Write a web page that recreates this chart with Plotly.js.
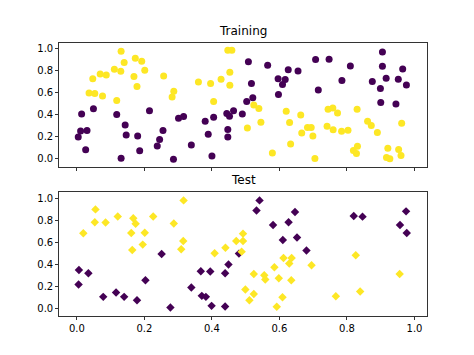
<!DOCTYPE html>
<html>
<head>
<meta charset="utf-8">
<script src="https://cdn.plot.ly/plotly-3.0.1.min.js"></script>
<style>html,body{margin:0;padding:0;background:#fff;}#chart{width:474px;height:355px;}</style>
</head>
<body>
<div id="chart"></div>
<script>
// Training set, class 1 (yellow)
var trainYellowX = [0.131,0.047,0.069,0.087,0.036,0.053,0.076,0.111,0.130,0.140,0.173,0.192,0.201,0.169,0.178,0.118,0.257,0.287,0.282,0.360,0.396,0.427,0.453,0.453,0.447,0.459,0.405,0.524,0.539,0.545,0.505,0.579,0.620,0.630,0.663,0.633,0.666,0.683,0.694,0.699,0.705,0.744,0.758,0.772,0.741,0.759,0.784,0.803,0.830,0.861,0.872,0.890,0.962,0.819,0.831,0.828,0.921,0.917,0.927,0.953,0.960];
var trainYellowY = [0.978,0.729,0.771,0.763,0.599,0.593,0.572,0.814,0.796,0.875,0.914,0.887,0.805,0.748,0.657,0.530,0.754,0.614,0.563,0.699,0.684,0.723,0.668,0.787,0.987,0.987,0.521,0.490,0.457,0.333,0.280,0.053,0.432,0.329,0.398,0.135,0.235,0.284,0.284,0.208,0.003,0.451,0.462,0.417,0.296,0.263,0.250,0.260,0.451,0.342,0.303,0.239,0.323,0.076,0.114,0.048,0.096,0.011,-0.001,0.084,0.029];
// Training set, class 0 (purple)
var trainPurpleX = [0.014,0.049,0.011,0.030,0.004,0.026,0.118,0.143,0.146,0.180,0.186,0.131,0.215,0.255,0.245,0.238,0.286,0.301,0.316,0.339,0.380,0.405,0.389,0.400,0.444,0.464,0.452,0.447,0.447,0.508,0.565,0.517,0.503,0.521,0.490,0.596,0.617,0.609,0.626,0.655,0.597,0.707,0.747,0.715,0.785,0.810,0.905,0.905,0.965,0.916,0.952,0.976,0.875,0.899,0.900,0.945];
var trainPurpleY = [0.407,0.454,0.253,0.256,0.199,0.081,0.402,0.308,0.216,0.208,0.072,0.005,0.438,0.256,0.175,0.117,-0.004,0.368,0.384,0.126,0.342,0.378,0.224,0.026,0.412,0.438,0.387,0.266,0.199,0.884,0.850,0.684,0.521,0.556,0.407,0.729,0.721,0.675,0.809,0.799,0.584,0.903,0.905,0.626,0.712,0.844,0.972,0.841,0.817,0.732,0.723,0.672,0.702,0.639,0.511,0.499];
// Test set, class 1 (yellow)
var testYellowX = [0.055,0.053,0.085,0.019,0.121,0.167,0.174,0.161,0.201,0.195,0.164,0.226,0.287,0.316,0.315,0.309,0.408,0.440,0.472,0.492,0.492,0.488,0.524,0.555,0.558,0.499,0.524,0.511,0.585,0.598,0.612,0.636,0.629,0.635,0.695,0.609,0.592,0.767,0.839,0.826,0.956];
var testYellowY = [0.905,0.787,0.785,0.687,0.841,0.824,0.775,0.690,0.693,0.584,0.535,0.841,0.777,0.987,0.617,0.541,0.505,0.556,0.617,0.684,0.617,0.520,0.317,0.305,0.266,0.175,0.135,0.078,0.378,0.278,0.462,0.462,0.412,0.260,0.396,0.105,0.017,0.114,0.157,0.487,0.317];
// Test set, class 0 (purple)
var testPurpleX = [0.006,0.034,0.005,0.078,0.116,0.140,0.178,0.203,0.251,0.277,0.339,0.367,0.395,0.370,0.382,0.399,0.439,0.449,0.439,0.541,0.532,0.646,0.581,0.627,0.610,0.652,0.680,0.480,0.820,0.846,0.975,0.957,0.977];
var testPurpleY = [0.353,0.323,0.221,0.108,0.148,0.108,0.078,0.260,0.499,0.011,0.193,0.342,0.339,0.117,0.108,0.026,0.323,0.402,0.020,0.987,0.895,0.881,0.762,0.787,0.626,0.648,0.530,0.502,0.844,0.839,0.887,0.762,0.690];

var tickVals = [0, 0.2, 0.4, 0.6, 0.8, 1.0];
var tickText = ['0.0', '0.2', '0.4', '0.6', '0.8', '1.0'];
var titles = ['Training', 'Test'];

var PURPLE = '#440154', YELLOW = '#fde725';
function tr(x, y, color, symbol, size, xa, ya) {
  return {x: x, y: y, type: 'scatter', mode: 'markers', xaxis: xa, yaxis: ya,
    marker: {color: color, symbol: symbol, size: size, line: {width: 0}},
    hoverinfo: 'skip', showlegend: false};
}
var data = [
  tr(trainPurpleX, trainPurpleY, PURPLE, 'circle', 7, 'x', 'y'),
  tr(trainYellowX, trainYellowY, YELLOW, 'circle', 7, 'x', 'y'),
  tr(testPurpleX, testPurpleY, PURPLE, 'diamond', 6.5, 'x2', 'y2'),
  tr(testYellowX, testYellowY, YELLOW, 'diamond', 6.5, 'x2', 'y2')
];

var font = {family: 'DejaVu Sans, sans-serif', size: 10, color: '#000'};
function ax(extra) {
  var a = {showline: true, mirror: true, linecolor: '#000', linewidth: 0.8,
    ticks: 'outside', ticklen: 3, tickwidth: 0.8, tickcolor: '#000',
    showgrid: false, zeroline: false, tickfont: font,
    tickvals: tickVals, ticktext: tickText};
  for (var k in extra) a[k] = extra[k];
  return a;
}
var layout = {
  width: 474, height: 355,
  margin: {l: 59, r: 47, t: 43, b: 39, pad: 0},
  paper_bgcolor: '#fff', plot_bgcolor: '#fff',
  font: font,
  xaxis: ax({range: [-0.053, 1.037], anchor: 'y', showticklabels: false, matches: 'x2'}),
  yaxis: ax({range: [-0.0764, 1.0536], domain: [0.5453, 1], anchor: 'x'}),
  xaxis2: ax({range: [-0.053, 1.037], anchor: 'y2'}),
  yaxis2: ax({range: [-0.0664, 1.0636], domain: [0, 0.4543], anchor: 'x2'}),
  annotations: [
    {text: titles[0], xref: 'paper', yref: 'paper', x: 0.5, y: 1, xanchor: 'center', yanchor: 'bottom', yshift: 3, showarrow: false, font: {family: 'DejaVu Sans, sans-serif', size: 12, color: '#000'}},
    {text: titles[1], xref: 'paper', yref: 'paper', x: 0.5, y: 0.4543, xanchor: 'center', yanchor: 'bottom', yshift: 3, showarrow: false, font: {family: 'DejaVu Sans, sans-serif', size: 12, color: '#000'}}
  ]
};
Plotly.newPlot('chart', data, layout, {staticPlot: true, displayModeBar: false});
</script>
</body>
</html>
